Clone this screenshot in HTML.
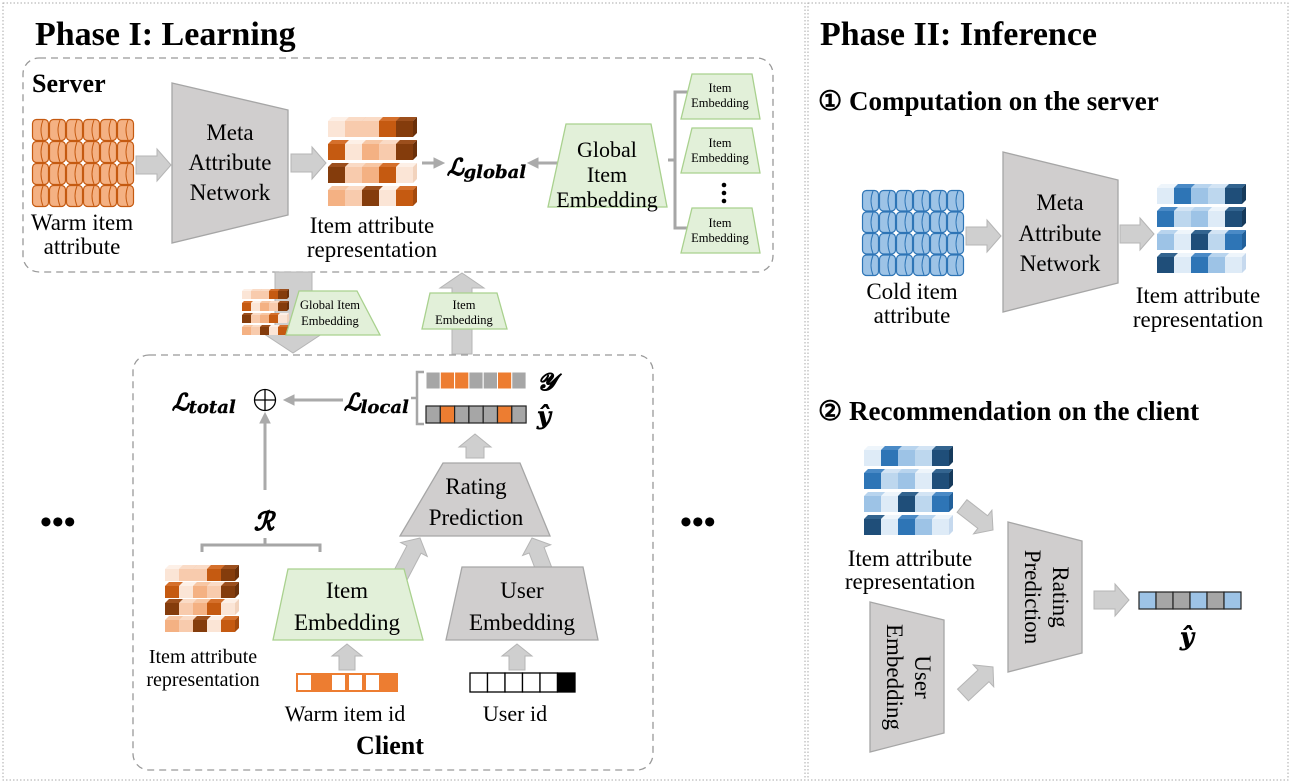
<!DOCTYPE html>
<html><head><meta charset="utf-8">
<style>
html,body{margin:0;padding:0;background:#fff;}
svg{display:block;}
text{font-family:"Liberation Serif","DejaVu Serif",serif;fill:#000;}
.b{font-weight:bold;}
.m{font-family:"DejaVu Serif","Liberation Serif",serif;font-style:italic;font-weight:bold;stroke:#000;stroke-width:0.6;}
.m tspan{stroke-width:0.3;}
</style></head><body>
<svg id="s" width="1291" height="784" viewBox="0 0 1291 784" xmlns="http://www.w3.org/2000/svg">
<rect x="3" y="3" width="802" height="777" fill="none" stroke="#aaa" stroke-dasharray="1.5,2"/>
<rect x="808" y="3" width="480" height="777" fill="none" stroke="#aaa" stroke-dasharray="1.5,2"/>
<rect x="23" y="58" width="750" height="214" rx="16" fill="none" stroke="#999" stroke-width="1.3" stroke-dasharray="7,5"/>
<rect x="133" y="355" width="520" height="415" rx="16" fill="none" stroke="#999" stroke-width="1.3" stroke-dasharray="7,5"/>
<g id="g"></g>
<text x="35" y="45" font-size="34" class="b">Phase I: Learning</text>
<text x="820" y="45" font-size="34" class="b">Phase II: Inference</text>
<text x="32" y="92" font-size="26" class="b">Server</text>
<text x="818" y="110" font-size="27" class="b">① Computation on the server</text>
<text x="818" y="420" font-size="27" class="b">② Recommendation on the client</text>
<text x="390" y="754" font-size="26" class="b" text-anchor="middle">Client</text>
<g font-size="23" text-anchor="middle">
<text x="230" y="140">Meta</text><text x="230" y="170">Attribute</text><text x="230" y="200">Network</text>
<text x="82" y="230">Warm item</text><text x="82" y="254">attribute</text>
<text x="372" y="233">Item attribute</text><text x="372" y="257">representation</text>
<text x="1060" y="210">Meta</text><text x="1060" y="241">Attribute</text><text x="1060" y="271">Network</text>
<text x="912" y="299">Cold item</text><text x="912" y="323">attribute</text>
<text x="1198" y="303">Item attribute</text><text x="1198" y="327">representation</text>
<text x="910" y="566">Item attribute</text><text x="910" y="589">representation</text>
<text x="476" y="494">Rating</text><text x="476" y="525">Prediction</text>
<text x="347" y="598">Item</text><text x="347" y="630">Embedding</text>
<text x="522" y="598">User</text><text x="522" y="630">Embedding</text>
</g>
<g font-size="22" text-anchor="middle">
<text x="607" y="157">Global</text><text x="607" y="182">Item</text><text x="607" y="207">Embedding</text>
<text x="345" y="721">Warm item id</text><text x="515" y="721">User id</text>
</g>
<g font-size="20" text-anchor="middle">
<text x="203" y="663">Item attribute</text><text x="203" y="686">representation</text>
</g>
<g font-size="12.5" text-anchor="middle">
<text x="720" y="92">Item</text><text x="720" y="107">Embedding</text>
<text x="720" y="147">Item</text><text x="720" y="162">Embedding</text>
<text x="720" y="227">Item</text><text x="720" y="242">Embedding</text>
<text x="464" y="309">Item</text><text x="464" y="324">Embedding</text>
<text x="330" y="309">Global Item</text><text x="330" y="325">Embedding</text>
</g>
<g font-size="23" text-anchor="middle">
<text transform="translate(1045,597) rotate(90)"><tspan x="0" y="-8">Rating</tspan><tspan x="0" y="20">Prediction</tspan></text>
<text transform="translate(907,677) rotate(90)"><tspan x="0" y="-8">User</tspan><tspan x="0" y="20">Embedding</tspan></text>
</g>
<text x="447" y="175" font-size="23" class="m">ℒ<tspan font-size="18" dy="3">global</tspan></text>
<text x="344" y="410" font-size="23" class="m">ℒ<tspan font-size="18" dy="3">local</tspan></text>
<text x="172" y="410" font-size="23" class="m">ℒ<tspan font-size="18" dy="3">total</tspan></text>
<text x="254" y="530" font-size="25" class="m">ℛ</text>
<text x="537" y="390" font-size="24" class="m">𝒴</text>
<text x="537" y="424" font-size="24" class="m">ŷ</text>
<text x="1180" y="645" font-size="24" class="m">ŷ</text>
<text x="40" y="533" font-size="34" class="b">•••</text>
<text x="680" y="533" font-size="34" class="b">•••</text>
</svg>
<script>
const g=document.getElementById('g');const NS='http://www.w3.org/2000/svg';
function el(t,a){const e=document.createElementNS(NS,t);for(const k in a)e.setAttribute(k,a[k]);g.appendChild(e);return e;}
function poly(pts,fill,stroke,sw){el('polygon',{points:pts.map(p=>p.join(',')).join(' '),fill:fill,stroke:stroke,'stroke-width':sw||1.3});}
function trapH(tl,tr,ty,bl,br,by,f,s){poly([[tl,ty],[tr,ty],[br,by],[bl,by]],f,s);}
const GR='#d0cece',GS='#a6a6a6',GN='#e2f0d9',GNS='#a9d18e';
function arrow(x1,y1,x2,y2,sw,hw,hl){const dx=x2-x1,dy=y2-y1,L=Math.hypot(dx,dy),a=Math.atan2(dy,dx)*180/Math.PI;
 const p=[[0,-sw/2],[L-hl,-sw/2],[L-hl,-hw/2],[L,0],[L-hl,hw/2],[L-hl,sw/2],[0,sw/2]];
 el('polygon',{points:p.map(q=>q.join(',')).join(' '),fill:'#cfcfcf',stroke:'#b5b5b5','stroke-width':1,transform:`translate(${x1},${y1}) rotate(${a})`});}
function line(x1,y1,x2,y2,c,w){el('line',{x1,y1,x2,y2,stroke:c||'#aaa','stroke-width':w||3});}
function thinArrow(x1,y1,x2,y2){const dx=x2-x1,dy=y2-y1,L=Math.hypot(dx,dy),ux=dx/L,uy=dy/L;
 line(x1,y1,x2-ux*8,y2-uy*8,'#aaa',3);poly([[x2,y2],[x2-ux*10-uy*5,y2-uy*10+ux*5],[x2-ux*10+uy*5,y2-uy*10-ux*5]],'#aaa','#aaa',1);}
function cyl(x0,y0,cw,ch,fill,stroke){for(let r=0;r<4;r++)for(let c=0;c<6;c++){const x=x0+c*cw,y=y0+r*ch;
 el('rect',{x:x+0.5,y:y+0.5,width:cw-1,height:ch-1,rx:4,fill:fill,stroke:stroke,'stroke-width':1.2});
 el('path',{d:`M${x+cw-6},${y+1} Q${x+cw-10},${y+ch/2} ${x+cw-6},${y+ch-1}`,fill:'none',stroke:stroke,'stroke-width':1});}}
function cubes(x0,y0,w,h,pitch,pal,pat){const d=Math.round(w*0.25);for(let r=0;r<4;r++)for(let c=0;c<5;c++){const col=pal[pat[r][c]];
 const x=x0+c*w,y=y0+r*pitch+d;
 poly([[x,y],[x+d,y-d],[x+w+d,y-d],[x+w,y]],col[1],'none',0);
 poly([[x+w,y],[x+w+d,y-d],[x+w+d,y+h-d],[x+w,y+h]],col[2],'none',0);
 el('rect',{x:x,y:y,width:w,height:h,fill:col[0]});}}
const OR=[['#fbe5d6','#fdf0e7','#f2d3bd'],['#f8cbad','#fadbc6','#eab593'],['#f4b183','#f7c6a3','#e59b69'],['#c55a11','#d5702c','#a44a0d'],['#843c0c','#9c4f1d','#6a300a']];
const BL=[['#deebf7','#eef5fb','#c6d9ee'],['#bdd7ee','#d3e4f4','#9fc0e0'],['#9dc3e6','#b8d4ee','#7eaed8'],['#2e75b6','#4a8ac6','#22609a'],['#1f4e79','#33648f','#163a5b']];
const PO=[[0,1,1,3,4],[3,0,2,1,4],[4,1,2,3,0],[2,1,4,0,3]];
const PB=[[0,3,2,1,4],[3,1,2,0,4],[2,0,4,1,3],[4,0,3,2,0]];
cyl(32,119,17,22,'#f4b183','#c55a11');
arrow(136,165,171,165,18,32,14);
poly([[172,83],[288,110],[288,215],[172,243]],GR,GS);
arrow(291,163,326,163,18,32,14);
cubes(328,117,17,16,23,OR,PO);
thinArrow(422,163,444,163);
thinArrow(560,163,528,163);
trapH(566,651,124,548,667,207,GN,GNS);
el('path',{d:'M688,92 L675,92 L675,228 L688,228 M675,160 L668,160',fill:'none',stroke:'#a6a6a6','stroke-width':3});
trapH(692,752,74,681,760,119,GN,GNS);
trapH(692,752,128,681,760,173,GN,GNS);
trapH(692,752,208,681,760,253,GN,GNS);
for(const y of [185,193,201])el('circle',{cx:724,cy:y,r:2.3,fill:'#000'});
poly([[275,272],[312,272],[312,326],[334,326],[293,353],[252,326],[275,326]],'#cfcfcf','#b5b5b5',1);
cubes(242,289,9,8,12,OR,PO);
trapH(299,357,291,286,380,335,GN,GNS);
poly([[452,354],[472,354],[472,288],[484,288],[462,273],[440,288],[452,288]],'#cfcfcf','#b5b5b5',1);
trapH(430,497,293,422,507,329,GN,GNS);
const yc=['#a6a6a6','#ed7d31','#ed7d31','#a6a6a6','#a6a6a6','#ed7d31','#a6a6a6'];
const yh=['#a6a6a6','#ed7d31','#a6a6a6','#a6a6a6','#a6a6a6','#ed7d31','#a6a6a6'];
for(let i=0;i<7;i++){el('rect',{x:426+i*14.3,y:372,width:14.3,height:17,fill:yc[i],stroke:'#fff','stroke-width':1});
 el('rect',{x:426+i*14.3,y:406,width:14.3,height:17,fill:yh[i],stroke:'#222','stroke-width':1.2});}
el('path',{d:'M424,372 L417,372 L417,424 L424,424 M417,398 L411,398',fill:'none',stroke:'#a6a6a6','stroke-width':2.5});
thinArrow(343,400,284,400);
el('circle',{cx:265,cy:400,r:10.5,fill:'#fff',stroke:'#000','stroke-width':1.3});
line(265,390,265,410,'#000',1.3);line(255,400,275,400,'#000',1.3);
thinArrow(265,490,265,413);
el('path',{d:'M202,552 L202,545 L320,545 L320,552 M265,545 L265,538',fill:'none',stroke:'#a6a6a6','stroke-width':3});
cubes(165,565,14,12,17,OR,PO);
arrow(475,458,475,434,18,32,13);
trapH(443,520,463,400,550,536,GR,GS);
arrow(398,580,420,538,16,30,13);
arrow(548,580,532,538,16,30,13);
trapH(288,404,569,273,423,640,GN,GNS);
trapH(462,583,567,446,598,640,GR,GS);
arrow(347,670,347,644,16,30,12);
arrow(517,670,517,644,16,30,12);
const wi=['#fff','#ed7d31','#fff','#fff','#fff','#ed7d31'];
for(let i=0;i<6;i++){el('rect',{x:296+i*17,y:673,width:17,height:19,fill:'#ed7d31'});
 if(wi[i]=='#fff')el('rect',{x:296+i*17+2,y:675,width:13,height:15,fill:'#fff'});}
for(let i=0;i<6;i++)el('rect',{x:470+i*17.5,y:673,width:17.5,height:19,fill:i==5?'#000':'#fff',stroke:'#000','stroke-width':1.3});
cyl(862,190,17,21.5,'#9dc3e6','#2e75b6');
arrow(966,236,1001,236,18,32,14);
poly([[1003,152],[1118,180],[1118,283],[1003,312]],GR,GS);
arrow(1120,234,1154,234,18,32,14);
cubes(1157,184,17,16,23,BL,PB);
cubes(864,446,17,16,23,BL,PB);
arrow(962,506,993,530,16,30,13);
poly([[1008,522],[1082,541],[1082,653],[1008,672]],GR,GS);
poly([[870,602],[944,620],[944,733],[870,752]],GR,GS);
arrow(963,695,993,667,16,30,13);
arrow(1094,600,1129,600,18,32,14);
const yr=['#9dc3e6','#a6a6a6','#a6a6a6','#9dc3e6','#a6a6a6','#9dc3e6'];
for(let i=0;i<6;i++)el('rect',{x:1139+i*17,y:592,width:17,height:17,fill:yr[i],stroke:'#222','stroke-width':1.2});
</script>
</body></html>
